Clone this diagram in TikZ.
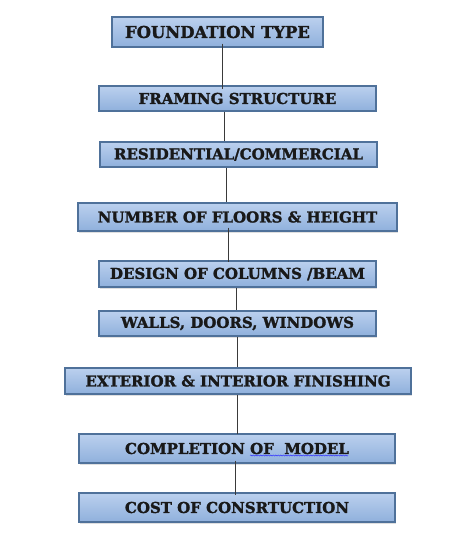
\documentclass[tikz,border=0pt]{standalone}
\usepackage{fontspec}
\setmainfont[BoldFeatures={FakeBold=1.6}]{DejaVu Serif}
\usetikzlibrary{shadows,decorations.pathmorphing}
\definecolor{boxtop}{HTML}{BBD0EE}
\definecolor{boxbot}{HTML}{8FB0DC}
\definecolor{boxline}{HTML}{4F719A}
\definecolor{linkcol}{HTML}{3A3A3A}
\tikzset{
  flowbox/.style={draw=boxline, line width=1.2pt, top color=boxtop, bottom color=boxbot,
    inner sep=0pt, font=\fontsize{15}{18}\selectfont\bfseries, text=black!90,
    drop shadow={opacity=0.25, shadow xshift=1pt, shadow yshift=-1.5pt}},
  link/.style={draw=linkcol, line width=0.9pt}
}
\begin{document}
\begin{tikzpicture}[x=1pt,y=-1pt]
\useasboundingbox[fill=white] (0,0) rectangle (456,537);
\node[flowbox, minimum width=211pt, minimum height=30pt, font=\fontsize{16.4}{18}\selectfont\bfseries] (b1) at (217.5,32) {FOUNDATION TYPE};
\node[flowbox, minimum width=277pt, minimum height=25pt] (b2) at (237.5,98.5) {FRAMING STRUCTURE};
\node[flowbox, minimum width=277pt, minimum height=25pt] (b3) at (238.5,154.5) {RESIDENTIAL/COMMERCIAL};
\node[flowbox, minimum width=319pt, minimum height=28pt] (b4) at (237.5,217) {NUMBER OF FLOORS \& HEIGHT};
\node[flowbox, minimum width=277pt, minimum height=26pt] (b5) at (237.5,274) {DESIGN OF COLUMNS /BEAM};
\node[flowbox, minimum width=277pt, minimum height=25pt] (b6) at (237.5,323.5) {WALLS, DOORS, WINDOWS};
\node[flowbox, minimum width=346pt, minimum height=26pt] (b7) at (238,381) {EXTERIOR \& INTERIOR FINISHING};
\node[flowbox, minimum width=316pt, minimum height=29pt] (b8) at (237,448.5) {COMPLETION OF\ \ MODEL};
\node[flowbox, minimum width=316pt, minimum height=29pt] (b9) at (237,507.5) {COST OF CONSRTUCTION};
\coordinate (L1) at (222,0);
\coordinate (L2) at (224,0);
\coordinate (L3) at (226,0);
\coordinate (L4) at (228,0);
\coordinate (L5) at (236,0);
\coordinate (L6) at (237,0);
\coordinate (L7) at (237,0);
\coordinate (L8) at (235,0);
\draw[link] ([yshift=4pt]b1.south -| L1) -- ([yshift=-4pt]b2.north -| L1);
\draw[link] (b2.south -| L2) -- (b3.north -| L2);
\draw[link] (b3.south -| L3) -- (b4.north -| L3);
\draw[link] ([yshift=4pt]b4.south -| L4) -- ([yshift=-2pt]b5.north -| L4);
\draw[link] (b5.south -| L5) -- (b6.north -| L5);
\draw[link] (b6.south -| L6) -- (b7.north -| L6);
\draw[link] (b7.south -| L7) -- ([yshift=-1pt]b8.north -| L7);
\draw[link] ([yshift=3pt]b8.south -| L8) -- ([yshift=-3pt]b9.north -| L8);
\draw[blue!80, line width=0.5pt, decorate, decoration={snake, amplitude=0.6pt, segment length=2.5pt}] (250,455.5) -- (348,455.5);
\end{tikzpicture}
\end{document}
